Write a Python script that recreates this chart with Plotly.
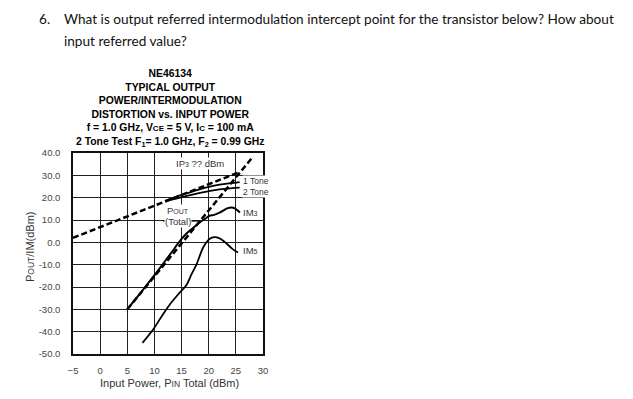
import plotly.graph_objects as go

# ---------------- data ----------------
# slope-1 extrapolation (dashed)
pout_ext_x = [-5.0, 25.6]
pout_ext_y = [2.0, 31.4]
# slope-3 extrapolation (dashed)
im3_ext_x = [5.0, 27.9]
im3_ext_y = [-30.0, 37.6]
# 1 tone output power
tone1_x = [12.0, 14.0, 16.0, 18.0, 20.0, 22.0, 24.0, 25.7]
tone1_y = [18.6, 20.4, 22.0, 23.5, 24.8, 25.8, 26.5, 27.0]
# 2 tone output power
tone2_x = [12.0, 14.0, 16.0, 18.0, 20.0, 22.0, 24.0, 25.7]
tone2_y = [18.4, 19.6, 20.8, 21.9, 22.9, 23.7, 24.2, 24.5]
# IM3 measured
im3_x = [5.0, 7.0, 9.0, 11.0, 13.0, 15.0, 16.0, 17.0, 18.4, 19.5, 20.2, 21.0, 22.1, 23.4, 24.2, 24.8, 25.75]
im3_y = [-30.0, -24.0, -17.8, -11.5, -5.0, 1.5, 4.2, 6.2, 9.0, 10.8, 12.0, 12.3, 13.4, 15.2, 15.6, 15.2, 13.4]
# IM5 measured
im5_x = [7.8, 9.8, 11.5, 12.9, 14.7, 15.9, 16.8, 17.8, 19.0, 20.2, 21.0, 21.8, 22.8, 24.3, 25.4]
im5_y = [-45.0, -38.9, -32.5, -27.6, -22.4, -19.1, -14.5, -9.6, -2.2, 1.6, 2.3, 2.0, 0.5, -2.8, -4.6]

x_ticks = [-5, 0, 5, 10, 15, 20, 25, 30]
y_ticks = [-50, -40, -30, -20, -10, 0, 10, 20, 30, 40]
y_tick_text = [f"{v:.1f}" for v in y_ticks]

# ---------------- figure ----------------
W, H = 633, 399
L, R, T, B = 73, 263, 153, 354  # plot area pixels


def px(xp):
    return (xp - L) / (R - L)


def py(yp):
    return (B - yp) / (B - T)


CH = "Liberation Sans, Arial, sans-serif"
fig = go.Figure()

dash = "6px,3px"
fig.add_trace(go.Scatter(x=pout_ext_x, y=pout_ext_y, mode="lines",
                         line=dict(color="black", width=2.5, dash=dash)))
fig.add_trace(go.Scatter(x=im3_ext_x, y=im3_ext_y, mode="lines",
                         line=dict(color="black", width=2.5, dash=dash)))
fig.add_trace(go.Scatter(x=tone1_x, y=tone1_y, mode="lines", line_shape="spline",
                         line=dict(color="black", width=1.8)))
fig.add_trace(go.Scatter(x=tone2_x, y=tone2_y, mode="lines", line_shape="spline",
                         line=dict(color="black", width=1.8)))
fig.add_trace(go.Scatter(x=im3_x, y=im3_y, mode="lines", line_shape="spline",
                         line=dict(color="black", width=2.0, smoothing=0.8)))
fig.add_trace(go.Scatter(x=im5_x, y=im5_y, mode="lines", line_shape="spline",
                         line=dict(color="black", width=1.8, smoothing=0.8)))

# leader line for Pout (Total)
fig.add_shape(type="line", x0=11.6, x1=18.4, y0=9.5, y1=9.5,
              line=dict(color="black", width=1))

ann = []
tfont = dict(family=CH, size=9.5, color="#333")
sub = "<span style='font-size:7px'>{}</span>"
ann.append(dict(x=14.3, y=9.5, xref="x", yref="y", text="(Total)", showarrow=False,
                font=tfont, bgcolor="white", borderpad=0))
ann.append(dict(x=14.3, y=14.4, xref="x", yref="y",
                text="P" + sub.format("OUT"), showarrow=False,
                font=tfont, bgcolor="white", borderpad=0))
ann.append(dict(x=18.4, y=35.2, xref="x", yref="y",
                text="IP" + sub.format("3") + " ?? dBm", showarrow=False,
                font=tfont, bgcolor="white", borderpad=0))
ann.append(dict(x=26.2, y=24.9, xref="x", yref="y", text="1 Tone<br>2 Tone",
                showarrow=False, xanchor="left", yanchor="middle", align="left",
                font=dict(family=CH, size=8.5, color="#333"), bgcolor="white", borderpad=0))
for txt, yv in [("IM" + sub.format("3"), 13.4),
                ("IM" + sub.format("5"), -3.7)]:
    ann.append(dict(x=26.2, y=yv, xref="x", yref="y", text=txt, showarrow=False,
                    xanchor="left", font=tfont, bgcolor="white", borderpad=0))

# chart title
title_txt = ("NE46134<br>TYPICAL OUTPUT<br>POWER/INTERMODULATION<br>"
             "DISTORTION vs. INPUT POWER<br>"
             "f = 1.0 GHz, V<span style='font-size:8px'>CE</span> = 5 V, "
             "I<span style='font-size:8px'>C</span> = 100 mA<br>"
             "2 Tone Test F<sub>1</sub>= 1.0 GHz, F<sub>2</sub> = 0.99 GHz")
ann.append(dict(x=px(170), y=py(108.5), xref="paper", yref="paper", text=title_txt,
                showarrow=False, xanchor="center", yanchor="middle", align="center",
                font=dict(family=CH, size=10.4, color="black", weight="bold")))

# question text
QF = dict(family="Lato, Open Sans, sans-serif", size=13.6, color="#111")
ann.append(dict(x=px(37), y=py(19), xref="paper", yref="paper", text="6.",
                showarrow=False, xanchor="left", yanchor="middle", font=QF))
ann.append(dict(x=px(62), y=py(19), xref="paper", yref="paper",
                text="What is output referred intermodulation intercept point for the transistor below? How about",
                showarrow=False, xanchor="left", yanchor="middle", font=QF))
ann.append(dict(x=px(62), y=py(41), xref="paper", yref="paper",
                text="input referred value?",
                showarrow=False, xanchor="left", yanchor="middle", font=QF))

# axis titles
ann.append(dict(x=px(30), y=py(247), xref="paper", yref="paper",
                text="P" + "<span style='font-size:8.5px'>OUT</span>" + "/IM(dBm)", textangle=-90,
                showarrow=False, xanchor="center", yanchor="middle",
                font=dict(family=CH, size=11, color="#333")))
ann.append(dict(x=px(169), y=py(383), xref="paper", yref="paper",
                text="Input Power, P" + "<span style='font-size:8.5px'>IN</span>" + " Total (dBm)",
                showarrow=False, xanchor="center", yanchor="middle",
                font=dict(family=CH, size=11, color="#333")))

fig.update_layout(
    width=W, height=H,
    margin=dict(l=L, r=W - R, t=T, b=H - B, pad=0),
    paper_bgcolor="white", plot_bgcolor="white",
    showlegend=False,
    annotations=ann,
    xaxis=dict(range=[-5, 30], tickvals=x_ticks, showgrid=True, gridcolor="#222",
               gridwidth=1.2, showline=True, linecolor="#111", linewidth=1.5, mirror=True,
               zeroline=False, ticks="", ticklabelstandoff=7,
               tickfont=dict(family=CH, size=9.5, color="#444")),
    yaxis=dict(range=[-50, 40], tickvals=y_ticks, ticktext=y_tick_text, showgrid=True,
               gridcolor="#222", gridwidth=1.2, showline=True, linecolor="#111",
               linewidth=1.5, mirror=True, zeroline=False, ticks="", ticklabelstandoff=9,
               tickfont=dict(family=CH, size=9.5, color="#444")),
)

fig.write_html("out.html")
